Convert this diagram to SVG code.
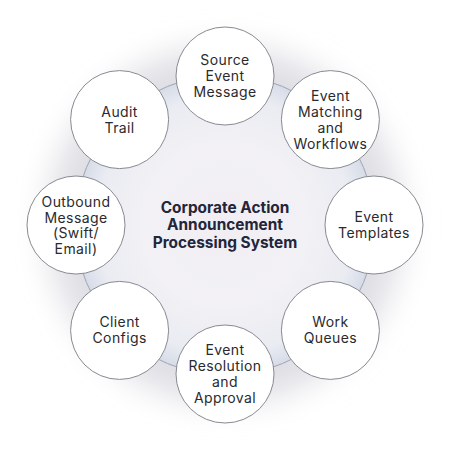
<svg xmlns="http://www.w3.org/2000/svg" width="450" height="450" viewBox="0 0 450 450">
  <defs>
    <radialGradient id="hub" cx="225" cy="225" r="150" gradientUnits="userSpaceOnUse">
      <stop offset="0" stop-color="#f1eef3"/>
      <stop offset="0.55" stop-color="#f2f1f5"/>
      <stop offset="0.86" stop-color="#eaecf2"/>
      <stop offset="1" stop-color="#d6dce8"/>
    </radialGradient>
    <filter id="soft" x="-50%" y="-50%" width="200%" height="200%">
      <feGaussianBlur stdDeviation="16"/>
    </filter>
  </defs>
  <style>
    .node circle { fill: #ffffff; stroke: #878a92; stroke-width: 1; }
    .node text { font-family: Inter, "Open Sans", "Liberation Sans", sans-serif; font-size: 14px; letter-spacing: 0.4px; fill: #2a2a2e; text-anchor: middle; }
    .title { font-family: Inter, "Open Sans", "Liberation Sans", sans-serif; font-size: 15.4px; font-weight: 700; fill: #23253a; text-anchor: middle; }
    .shadow { fill: #dedee4; }
  </style>
  <rect width="450" height="450" fill="#ffffff"/>
  <g id="shadows" filter="url(#soft)">
    <circle class="shadow" cx="225" cy="225" r="178"/>
  </g>
  <g id="hub-node">
    <circle cx="225" cy="225" r="150" fill="url(#hub)" stroke="#a0a5b0" stroke-width="1"/>
    <text class="title" x="225" y="212.5">Corporate Action</text>
    <text class="title" x="225" y="230">Announcement</text>
    <text class="title" x="225" y="247.5">Processing System</text>
  </g>
  <g id="connectors"></g>
  <g id="source-event-message" class="node">
    <circle cx="225" cy="76" r="49"/>
    <text x="225" y="65">Source</text>
    <text x="225" y="81">Event</text>
    <text x="225" y="97">Message</text>
  </g>
  <g id="event-matching" class="node">
    <circle cx="330.4" cy="119.6" r="49"/>
    <text x="330.4" y="101">Event</text>
    <text x="330.4" y="117">Matching</text>
    <text x="330.4" y="133">and</text>
    <text x="330.4" y="149">Workflows</text>
  </g>
  <g id="event-templates" class="node">
    <circle cx="374" cy="225" r="49"/>
    <text x="374" y="222">Event</text>
    <text x="374" y="238">Templates</text>
  </g>
  <g id="work-queues" class="node">
    <circle cx="330.4" cy="330.4" r="49"/>
    <text x="330.4" y="327">Work</text>
    <text x="330.4" y="343">Queues</text>
  </g>
  <g id="event-resolution" class="node">
    <circle cx="225" cy="374" r="49"/>
    <text x="225" y="355">Event</text>
    <text x="225" y="371">Resolution</text>
    <text x="225" y="387">and</text>
    <text x="225" y="403">Approval</text>
  </g>
  <g id="client-configs" class="node">
    <circle cx="119.6" cy="330.4" r="49"/>
    <text x="119.6" y="327">Client</text>
    <text x="119.6" y="343">Configs</text>
  </g>
  <g id="outbound-message" class="node">
    <circle cx="76" cy="225" r="49"/>
    <text x="76" y="206.5">Outbound</text>
    <text x="76" y="222.5">Message</text>
    <text x="76" y="238">(Swift/</text>
    <text x="76" y="254">Email)</text>
  </g>
  <g id="audit-trail" class="node">
    <circle cx="119.6" cy="119.6" r="49"/>
    <text x="119.6" y="116.5">Audit</text>
    <text x="119.6" y="132.5">Trail</text>
  </g>
</svg>
